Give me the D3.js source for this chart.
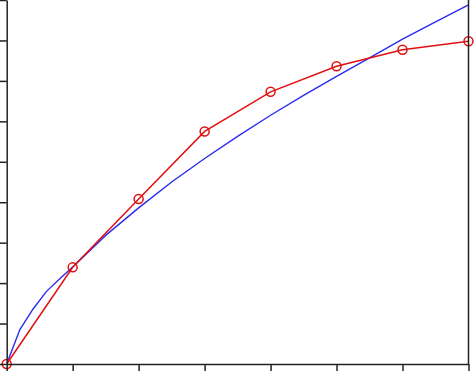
<!DOCTYPE html>
<html>
<head>
<meta charset="utf-8">
<script src="https://cdn.jsdelivr.net/npm/d3@7"></script>
<style>
  body { margin: 0; background: #fff; }
  svg { display: block; }
</style>
</head>
<body>
<svg></svg>
<script>
// sampled points (red, with markers)
var redX = [0, 1, 2, 3, 4, 5, 6, 7];
var redY = [0, 2.39, 4.08, 5.75, 6.73, 7.36, 7.77, 7.98];

// reference curve (blue)
var blueX = [0, 0.2, 0.4, 0.6, 0.8, 1.0, 1.5, 2.0, 2.5, 3.0, 3.5, 4.0, 4.5, 5.0, 5.5, 6.0, 6.5, 7.0];
var blueY = [0, 0.85, 1.36, 1.79, 2.1, 2.4, 3.18, 3.86, 4.5, 5.08, 5.63, 6.15, 6.64, 7.11, 7.57, 8.03, 8.46, 8.88];

var xTicks = [0, 1, 2, 3, 4, 5, 6, 7];
var yTicks = [0, 1, 2, 3, 4, 5, 6, 7, 8, 9];

var width = 474;
var height = 371;
var plotLeft = 6.7, plotRight = 468.5, plotTop = 0, plotBottom = 364;

var x = d3.scaleLinear().domain([0, 7]).range([plotLeft, plotRight]);
var y = d3.scaleLinear().domain([0, 9]).range([plotBottom, plotTop]);

var svg = d3.select('svg')
  .attr('width', width)
  .attr('height', height);

var redData = redX.map((d, i) => ({x: d, y: redY[i]}));
var blueData = blueX.map((d, i) => ({x: d, y: blueY[i]}));

var line = d3.line()
  .x(d => x(d.x))
  .y(d => y(d.y));

svg.append('path')
  .datum(blueData)
  .attr('fill', 'none')
  .attr('stroke', '#2b2bf0')
  .attr('stroke-width', 1.4)
  .attr('d', line);

svg.append('path')
  .datum(redData)
  .attr('fill', 'none')
  .attr('stroke', '#e01010')
  .attr('stroke-width', 1.5)
  .attr('d', line);

svg.selectAll('.marker')
  .data(redData)
  .enter()
  .append('circle')
  .classed('marker', true)
  .attr('cx', d => x(d.x))
  .attr('cy', d => y(d.y))
  .attr('r', 4.5)
  .attr('fill', 'none')
  .attr('stroke', '#e01010')
  .attr('stroke-width', 1.5);

// axes (ticks only, no labels)
var xAxis = d3.axisBottom(x)
  .tickValues(xTicks)
  .tickFormat('')
  .tickSizeInner(7)
  .tickSizeOuter(0);

var yAxis = d3.axisLeft(y)
  .tickValues(yTicks)
  .tickFormat('')
  .tickSizeInner(7)
  .tickSizeOuter(0);

var gx = svg.append('g')
  .attr('transform', 'translate(0,' + plotBottom + ')')
  .call(xAxis);

var gy = svg.append('g')
  .attr('transform', 'translate(' + plotLeft + ',0)')
  .call(yAxis);

[gx, gy].forEach(function(g) {
  g.selectAll('path, line')
    .attr('stroke', '#222')
    .attr('stroke-width', 1.5);
});

// right border of the box
svg.append('line')
  .attr('x1', plotRight)
  .attr('x2', plotRight)
  .attr('y1', plotTop)
  .attr('y2', plotBottom)
  .attr('stroke', '#222')
  .attr('stroke-width', 1.5);
</script>
</body>
</html>
